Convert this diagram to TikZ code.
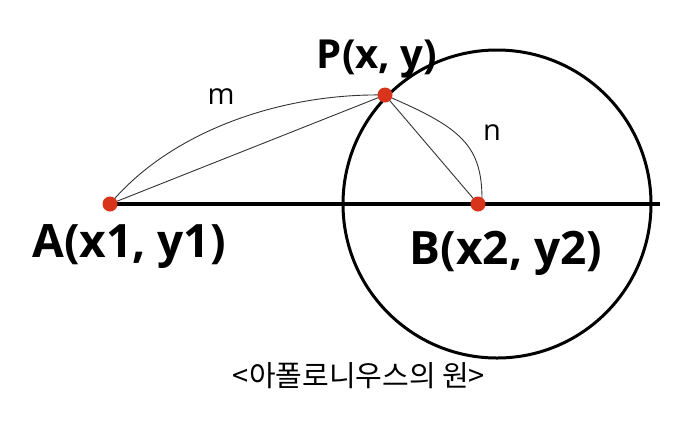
\documentclass[tikz,border=0pt]{standalone}
\usepackage{fontspec}
\setmainfont{Open Sans}
\newfontfamily\kofont{Noto Sans CJK KR}
\definecolor{dotred}{HTML}{D8341C}
\begin{document}
\begin{tikzpicture}[x=1pt,y=-1pt,
  dot/.style={circle,fill=dotred,inner sep=0pt,minimum size=15pt},
  thick line/.style={line width=3.6pt},
  ring/.style={line width=3pt},
  thin line/.style={line width=0.9pt,draw=black!80},
  big label/.style={font=\fontsize{46}{52}\selectfont\bfseries,inner sep=0pt},
  mid label/.style={font=\fontsize{40}{46}\selectfont\bfseries,inner sep=0pt},
  small label/.style={font=\fontsize{29}{34}\selectfont,inner sep=0pt}]
\useasboundingbox[fill=white] (0,0) rectangle (692,424);
\coordinate (A) at (110,204);
\coordinate (B) at (478,204);
\coordinate (P) at (385,95);
\coordinate (O) at (497,204);
\coordinate (E) at (660,204);
\draw[ring] (O) circle (154);
\draw[thick line] (A) -- (E);
\draw[thin line] (A) -- (P);
\draw[thin line] (P) -- (B);
\draw[thin line] (A) .. controls (170,132) and (280,93) .. (P);
\draw[thin line] (P) .. controls (462,128) and (483,145) .. (482,204);
\node[dot] (Ad) at (A) {};
\node[dot] (Bd) at (B) {};
\node[dot] (Pd) at (P) {};
\node[mid label] (PL) at (377,59) {P(x, y)};
\node[big label] (AL) at (129,247) {A(x1, y1)};
\node[big label] (BL) at (506,253) {B(x2, y2)};
\node[small label] (ml) at (221,97) {m};
\node[small label] (nl) at (492,133) {n};
\node[inner sep=0pt,font=\kofont\fontsize{29}{34}\selectfont] (cap) at (359,376) {<아폴로니우스의 원>};
\end{tikzpicture}
\end{document}
